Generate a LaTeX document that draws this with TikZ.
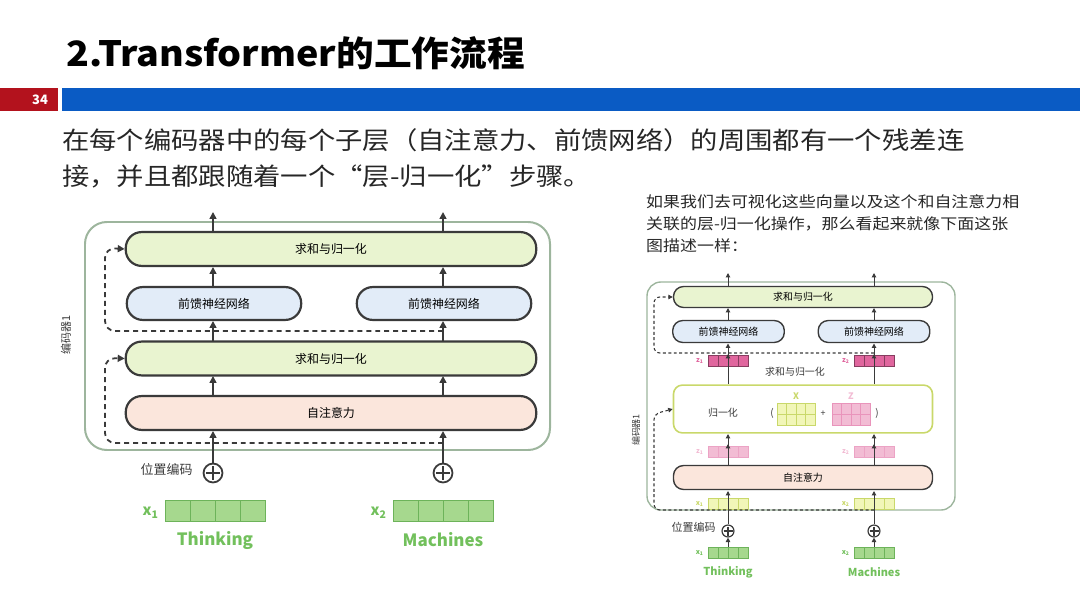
\documentclass[tikz,border=0pt]{standalone}
\usepackage{fontspec}
\setmainfont{Noto Sans CJK SC}
\newfontfamily\wide[FakeStretch=1.12]{Noto Sans CJK SC}
\newfontfamily\widet[FakeStretch=1.08]{Noto Sans CJK SC}
\usetikzlibrary{arrows.meta}
\definecolor{redb}{HTML}{B3121D}
\definecolor{blueb}{HTML}{0A5BC4}
\definecolor{frame}{HTML}{9DB59D}
\definecolor{sumc}{HTML}{E9F4D0}
\definecolor{ffnc}{HTML}{E2ECF8}
\definecolor{sac}{HTML}{FBE6DC}
\definecolor{cellg}{HTML}{A6D88E}
\definecolor{celle}{HTML}{6DB35A}
\definecolor{txtg}{HTML}{72C05C}
\definecolor{pinkd}{HTML}{E0669E}
\definecolor{pinkl}{HTML}{F2BCD4}
\definecolor{yel}{HTML}{F1F6B8}
\definecolor{yele}{HTML}{C9D86A}
\definecolor{ln}{HTML}{3A3A3A}
\tikzset{
 box/.style={draw=ln,line width=2.2pt,rounded corners=16,minimum height=34,inner sep=0,font=\fontsize{12}{12}\selectfont},
 sbox/.style={draw=ln,line width=1.4pt,rounded corners=10,inner sep=0,font=\fontsize{10}{10}\selectfont},
 arr/.style={draw=ln,line width=1.6pt,-{Triangle[width=7,length=7]}},
 sarr/.style={draw=ln,line width=1pt,-{Triangle[width=4.5,length=4.5]}},
 dsh/.style={draw=ln,line width=1.8pt,dash pattern=on 5pt off 4pt,rounded corners=10,-{Triangle[width=7,length=7]}},
 sdsh/.style={draw=ln,line width=1.1pt,dash pattern=on 3pt off 2.5pt,rounded corners=6,-{Triangle[width=4.5,length=4.5]}},
 plus/.style={circle,draw=ln,line width=1.8pt,minimum size=19,inner sep=0},
 splus/.style={circle,draw=ln,line width=1.2pt,minimum size=12,inner sep=0},
}
\newcommand{\cells}[6]{% x0,y0,w,h,fill,draw  (4 cells)
 \foreach \i in {0,1,2,3}{\draw[fill=#5,draw=#6,line width=0.8pt] ({#1+\i*#3},#2) rectangle ++(#3,#4);}}
\begin{document}
\begin{tikzpicture}[x=1bp,y=-1bp]
\useasboundingbox (0,0) rectangle (1080,608);
% header
\node[anchor=base west,font=\fontsize{35}{35}\widet\bfseries,inner sep=0] (title) at (66,67) {2.Transformer的工作流程};
\fill[redb] (0,88) rectangle (58,111);
\node[text=white,font=\fontsize{13}{13}\selectfont\bfseries] (pg) at (40,99.5) {34};
\fill[blueb] (62,88) rectangle (1080,111);
\node[anchor=base west,inner sep=0,font=\fontsize{24.5}{24.5}\wide,text=black!85] (p1) at (62,150) {在每个编码器中的每个子层（自注意力、前馈网络）的周围都有一个残差连};
\node[anchor=base west,inner sep=0,font=\fontsize{24.5}{24.5}\wide,text=black!85] (p2) at (62,186) {接，并且都跟随着一个“层-归一化”步骤。};
\node[anchor=base west,inner sep=0,font=\fontsize{15.2}{15.2}\wide,text=black!85] (r1) at (646,208) {如果我们去可视化这些向量以及这个和自注意力相};
\node[anchor=base west,inner sep=0,font=\fontsize{15.2}{15.2}\wide,text=black!85] (r2) at (646,230) {关联的层-归一化操作，那么看起来就像下面这张};
\node[anchor=base west,inner sep=0,font=\fontsize{15.2}{15.2}\wide,text=black!85] (r3) at (646,252) {图描述一样：};
% ===== left diagram
\draw[frame,line width=2pt,rounded corners=22] (85,222) rectangle (550,450);
\node[rotate=90,font=\fontsize{11}{11}\selectfont,text=ln] (enc) at (66,335) {编码器1};
\node[box,fill=sumc,minimum width=412] (s1) at (331,249) {求和与归一化};
\node[box,fill=ffnc,minimum width=175,minimum height=33] (f1) at (214,303.5) {前馈神经网络};
\node[box,fill=ffnc,minimum width=175,minimum height=33] (f2) at (444,303.5) {前馈神经网络};
\node[box,fill=sumc,minimum width=412] (s2) at (331,358.5) {求和与归一化};
\node[box,fill=sac,minimum width=412] (sa) at (331,413) {自注意力};
\node[plus] (pl1) at (213,473) {}; \draw[ln,line width=1.8pt] (213,466)--(213,480) (206,473)--(220,473);
\node[plus] (pl2) at (443,473) {}; \draw[ln,line width=1.8pt] (443,466)--(443,480) (436,473)--(450,473);
\node[anchor=east,font=\fontsize{13}{13}\selectfont,text=ln] (pos) at (196,470) {位置编码};
\cells{165}{500}{25}{21}{cellg}{celle}
\cells{393}{500}{25}{21}{cellg}{celle}
\node[anchor=east,text=txtg,font=\fontsize{15}{15}\selectfont\bfseries] (x1) at (162,513) {x\textsubscript{1}};
\node[anchor=east,text=txtg,font=\fontsize{15}{15}\selectfont\bfseries] (x2) at (390,513) {x\textsubscript{2}};
\node[text=txtg,font=\fontsize{17}{17}\selectfont\bfseries] (t1) at (215,540) {Thinking};
\node[text=txtg,font=\fontsize{17}{17}\selectfont\bfseries] (t2) at (443,540) {Machines};
\coordinate (o1) at (213,212); \coordinate (o2) at (443,212);
\foreach \c/\p in {213/pl1,443/pl2}{
 \draw[arr] (\p.north) -- (\c,431);
 \draw[arr] (\c,396) -- (\c,376);
 \draw[arr] (\c,341) -- (\c,321);
 \draw[arr] (\c,286) -- (\c,267);
 \draw[arr] (\c,232) -- (\c,212);
}
\coordinate (dl1) at (443,443); \coordinate (dl2) at (443,331);
\draw[dsh] (dl1) -- (105,443) -- (105,358) -- (s2.west);
\draw[dsh] (dl2) -- (105,331) -- (105,248) -- (s1.west);
% ===== right diagram
\draw[frame,line width=1.4pt,rounded corners=14] (647,282) rectangle (955,510);
\node[rotate=90,font=\fontsize{9}{9}\selectfont,text=ln] (enc2) at (636,430) {编码器1};
\node[sbox,fill=sumc,minimum width=260,minimum height=21] (rs1) at (803,297) {求和与归一化};
\node[sbox,fill=ffnc,minimum width=112,minimum height=22] (rf1) at (728.5,331.5) {前馈神经网络};
\node[sbox,fill=ffnc,minimum width=112,minimum height=22] (rf2) at (874,331.5) {前馈神经网络};
\node[font=\fontsize{10}{10}\selectfont,text=ln] (rsl) at (795,372) {求和与归一化};
\node[draw=yele,line width=1.6pt,rounded corners=9,minimum width=260,minimum height=48,inner sep=0] (ln1) at (803,409) {};
\node[font=\fontsize{10}{10}\selectfont,text=ln] (lnt) at (723,413) {归一化};
\node[font=\fontsize{10}{10}\selectfont,text=ln] (lp) at (772,413) {(};
\node[font=\fontsize{10}{10}\selectfont,text=ln] (rp) at (877,413) {)};
\node[font=\fontsize{9}{9}\selectfont,text=ln] (pp) at (823,414) {+};
\node[font=\fontsize{9}{9}\selectfont\bfseries,text=yele] (xl) at (796,396) {X};
\node[font=\fontsize{9}{9}\selectfont\bfseries,text=pinkl] (zl) at (851,396) {Z};
\foreach \r in {0,1}{\cells{777}{{403+\r*11}}{9.5}{11}{yel}{yele}\cells{832}{{403+\r*11}}{9.5}{11}{pinkl}{pinkd!70}}
\node[sbox,fill=sac,minimum width=260,minimum height=24] (rsa) at (803,477.5) {自注意力};
\foreach \c/\k in {728/1,874/2}{
 \cells{\c-20}{355}{10}{11}{pinkd}{pinkd!60!black}
 \cells{\c-20}{446}{10}{11}{pinkl}{pinkd!60}
 \cells{\c-20}{498}{10}{11}{yel}{yele}
 \cells{\c-20}{547}{10}{11}{cellg}{celle}
 \node[anchor=east,font=\fontsize{7}{7}\selectfont\bfseries,text=pinkd] (zz\k) at (\c-21,361) {z\textsubscript{\k}};
 \node[anchor=east,font=\fontsize{7}{7}\selectfont\bfseries,text=pinkl] (zl\k) at (\c-21,452) {z\textsubscript{\k}};
 \node[anchor=east,font=\fontsize{7}{7}\selectfont\bfseries,text=yele] (xy\k) at (\c-21,504) {x\textsubscript{\k}};
 \node[anchor=east,font=\fontsize{7}{7}\selectfont\bfseries,text=txtg] (xg\k) at (\c-21,553) {x\textsubscript{\k}};
 \node[splus] (rp\k) at (\c,531) {}; \draw[ln,line width=1.2pt] (\c,526.5)--(\c,535.5) (\c-4.5,531)--(\c+4.5,531);
 \draw[sarr] (\c,547) -- (rp\k.south);
 \draw[sarr] (rp\k.north) -- (\c,491);
 \draw[sarr] (\c,465) -- (\c,444);
 \draw[sarr] (\c,457) -- (\c,434);
 \draw[sarr] (\c,384) -- (\c,354);
 \draw[sarr] (\c,355) -- (\c,343.5);
 \draw[sarr] (\c,320) -- (\c,308);
 \draw[sarr] (\c,287) -- (\c,273);
}
\node[font=\fontsize{11}{11}\selectfont\bfseries,text=txtg] (rt1) at (728,572) {Thinking};
\node[font=\fontsize{11}{11}\selectfont\bfseries,text=txtg] (rt2) at (874,572) {Machines};
\node[anchor=east,font=\fontsize{11}{11}\selectfont,text=ln] (rpos) at (719,527) {位置编码};
\coordinate (rd1) at (874,510); \coordinate (rd2) at (874,353);
\draw[sdsh] (rd1) -- (654,510) -- (654,414) -- (ln1.west);
\draw[sdsh] (rd2) -- (654,353) -- (654,297) -- (rs1.west);
\end{tikzpicture}
\end{document}
